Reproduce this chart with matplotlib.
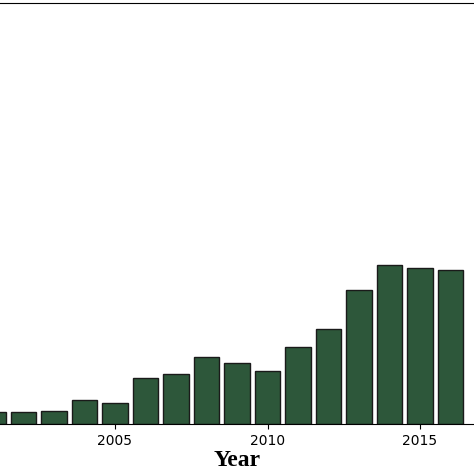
import matplotlib
matplotlib.use("Agg")
import matplotlib.pyplot as plt

years = list(range(2001, 2017))
counts = [12, 12, 13, 24, 21, 46, 50, 67, 61, 53, 77, 95, 134, 159, 156, 154]

fig = plt.figure(figsize=(4.74, 4.74), dpi=100)
ax = fig.add_axes([0, 50/474, 1, 421/474])
ax.bar(years, counts, width=0.85, color="#2d573a", edgecolor="#1a1a1a", linewidth=1)
ax.set_xlim(2001.23, 2016.77)
ax.set_ylim(0, 421)
ax.set_xticks([2005, 2010, 2015])
ax.tick_params(axis="x", labelsize=10)
ax.set_yticks([])
ax.spines["left"].set_visible(False)
ax.spines["right"].set_visible(False)
ax.set_xlabel("Year", fontsize=17, fontweight="bold", family="Liberation Serif", labelpad=2)
fig.savefig("out.png", dpi=100)
